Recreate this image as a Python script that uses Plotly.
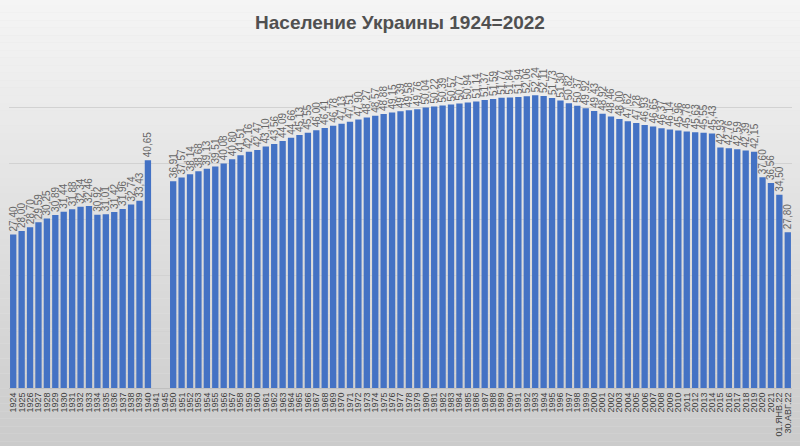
import plotly.graph_objects as go

# ---- data ----
years_early = [str(y) for y in range(1924, 1941)]
values_early = [27.40, 28.00, 28.70, 29.59, 30.25, 30.89, 31.44, 31.88, 32.34,
                32.46, 30.92, 31.01, 31.42, 31.96, 32.74, 33.43, 40.65]

years_gap = ["1941", "1945"]
values_gap = [None, None]

years_late = [str(y) for y in range(1950, 2022)]
values_late = [36.91, 37.57, 38.14, 38.68, 39.13, 39.51, 40.08, 40.80, 41.51, 42.16,
               42.47, 43.10, 43.56, 44.09, 44.66, 45.13, 45.55, 46.00, 46.41, 46.78,
               47.13, 47.51, 47.90, 48.27, 48.57, 48.88, 49.15, 49.39, 49.58, 49.76,
               50.04, 50.22, 50.39, 50.57, 50.77, 50.94, 51.14, 51.37, 51.59, 51.77,
               51.84, 51.94, 52.06, 52.24, 52.11, 51.73, 51.30, 50.82, 50.37, 49.92,
               49.43, 48.92, 48.46, 48.00, 47.62, 47.28, 46.93, 46.65, 46.37, 46.14,
               45.96, 45.78, 45.63, 45.55, 45.43, 42.93, 42.76, 42.59, 42.39, 42.15,
               37.60, 36.56]

dates_2022 = ["01.ЯНВ.22", "30.АВГ.22"]
values_2022 = [34.50, 27.80]

categories = years_early + years_gap + years_late + dates_2022
values = values_early + values_gap + values_late + values_2022
assert len(categories) == len(values)

labels = ["" if v is None else f"{v:.2f}".replace(".", ",") for v in values]

fig = go.Figure()
fig.add_trace(go.Bar(
    x=categories, y=values, text=labels,
    textposition="outside", textangle=-90, constraintext="none", cliponaxis=False,
    textfont=dict(size=10, color="#666666", family="Liberation Sans"),
    marker=dict(color="#4472C4", line=dict(width=0)),
    hoverinfo="x+y",
))

# gradient background strips
shapes = []
n = 60
top, bottom = 1.22, -0.19
c_top, c_bot = (245, 245, 245), (203, 203, 203)
for i in range(n):
    t = i / (n - 1)
    y1 = top - (top - bottom) * i / n
    y0 = top - (top - bottom) * (i + 1) / n
    c = tuple(round(c_top[k] + (c_bot[k] - c_top[k]) * t) for k in range(3))
    shapes.append(dict(type="rect", xref="paper", yref="paper", x0=-0.05, x1=1.05,
                       y0=y0, y1=y1, fillcolor=f"rgb{c}", line=dict(width=0),
                       layer="below"))

fig.update_layout(
    width=800, height=446,
    margin=dict(l=9, r=8, t=68, b=58),
    paper_bgcolor="#e4e4e4",
    plot_bgcolor="rgba(0,0,0,0)",
    shapes=shapes,
    bargap=0.25,
    showlegend=False,
    title=dict(text="<b>Население Украины 1924=2022</b>", x=0.5, xanchor="center",
               y=0.95, yanchor="middle",
               font=dict(size=19, color="#505050", family="Liberation Sans")),
    font=dict(family="Liberation Sans", color="#404040"),
    xaxis=dict(type="category", tickmode="array", tickvals=categories, ticktext=categories,
               tickangle=-90, tickfont=dict(size=9, color="#404040"),
               showline=True, linecolor="#bfbfbf", linewidth=1, ticks="",
               showgrid=False, range=[-0.5, len(categories) - 0.5]),
    yaxis=dict(range=[0, 57.1], dtick=10, showgrid=True, gridcolor="#d2d2d2",
               showticklabels=False, zeroline=False, showline=False),
)

fig.write_html("out.html", config={"displayModeBar": False},
               post_script="document.body.style.margin='0';document.body.style.overflow='hidden';")
